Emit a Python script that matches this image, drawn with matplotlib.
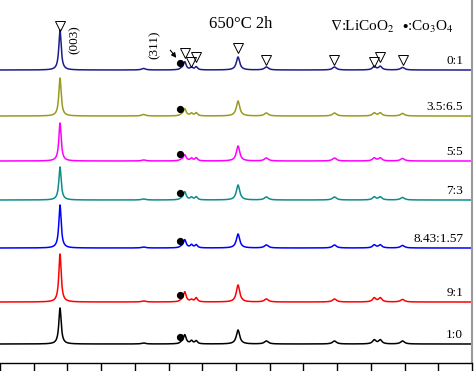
import numpy as np
import matplotlib
matplotlib.use("Agg")
import matplotlib.pyplot as plt
from matplotlib.ticker import MultipleLocator

plt.rcParams['font.family'] = ['Liberation Serif', 'DejaVu Serif']
plt.rcParams['mathtext.fontset'] = 'stix'

# ---- data ----
samples = ["0:1", "3.5:6.5", "5:5", "7:3", "8.43:1.57", "9:1", "1:0"]
colors = ["#1c1c8c", "#9a9a1e", "#ff00ff", "#0e8c8c", "#0000ff", "#ff0000", "#000000"]
offsets = [293, 247, 202, 163, 115, 61, 19]

peak_pos = [18.9, 31.3, 36.85, 37.4, 38.4, 39.1, 45.3, 49.5, 59.6, 65.5, 66.4, 69.7]
peak_fwhm = [0.42, 0.7, 0.5, 0.5, 0.45, 0.45, 0.6, 0.7, 0.7, 0.6, 0.6, 0.7]

h_0_1 = [40, 1.5, 1, 8, 2.5, 3, 13, 3, 3, 3.5, 3.5, 2.5]
h_35_65 = [38, 1.5, 1, 7, 2.5, 3, 15, 3, 3, 3, 3, 2.5]
h_5_5 = [38, 1, 1, 6, 2.5, 3, 15, 3, 3, 3, 3, 2.5]
h_7_3 = [33, 1, 1, 8, 2.5, 3, 15, 3, 3, 3, 3, 2.5]
h_843_157 = [43, 1, 1, 8, 3, 3, 14, 3, 3, 3, 3, 2.5]
h_9_1 = [48, 1, 1, 10, 2, 4, 17, 3, 3, 4, 4, 2.5]
h_1_0 = [36, 1, 1, 9, 3, 3, 14, 3, 3, 4, 4, 3]
heights = [h_0_1, h_35_65, h_5_5, h_7_3, h_843_157, h_9_1, h_1_0]

# LiCoO2 marker peaks on the top trace
licoo2_pos = [18.9, 37.4, 38.4, 39.1, 45.3, 49.5, 59.6, 65.5, 66.4, 69.7]
licoo2_y = [337, 310, 301, 306, 315, 303, 303, 301, 306, 303]
co3o4_pos = 36.7
co3o4_gap = 7

fig = plt.figure(figsize=(4.74, 3.71), dpi=100)
ax = fig.add_axes([0, 8/371, 472/474, 363/371])

x = np.linspace(10, 80, 3500)

def profile(hs):
    y = np.zeros_like(x)
    for p, w, h in zip(peak_pos, peak_fwhm, hs):
        g = w / 2
        y += h * g**2 / ((x - p)**2 + g**2)
    return y

for name, c, off, hs in zip(samples, colors, offsets, heights):
    ax.plot(x, off + profile(hs), color=c, lw=1.1)
    ax.text(78.7, off + 9, name, ha='right', va='center', fontsize=9.5)
    ax.plot([co3o4_pos], [off + co3o4_gap], 'o', color='black', ms=4.2)

ax.plot(licoo2_pos, licoo2_y, 'v', mfc='none', mec='black', ms=7, mew=0.7)

ax.text(45.7, 339, "650°C 2h", ha='center', va='center', fontsize=12)
ax.text(58.9, 336, r"$\nabla$:LiCoO$_2$", ha='left', va='center', fontsize=11)
ax.text(69.6, 336, r"$\bullet$:Co$_3$O$_4$", ha='left', va='center', fontsize=11)
ax.text(21.1, 323, "(003)", rotation=90, ha='center', va='center', fontsize=9.5)
ax.text(33.0, 318, "(311)", rotation=90, ha='center', va='center', fontsize=9.5)
ax.annotate("", xy=(36.4, 303), xytext=(35.0, 315),
            arrowprops=dict(arrowstyle='-|>', color='black', lw=0.8, mutation_scale=7))

ax.set_xlim(10, 80)
ax.set_ylim(0, 363)
ax.xaxis.set_major_locator(MultipleLocator(10))
ax.xaxis.set_minor_locator(MultipleLocator(5))
ax.tick_params(axis='x', which='both', direction='out', length=8, width=1,
               labelbottom=False)
ax.tick_params(axis='y', left=False, labelleft=False)
ax.spines['top'].set_visible(False)
ax.spines['left'].set_visible(False)
ax.spines['right'].set_color('#9a9a9a')
ax.spines['right'].set_linewidth(1.5)
ax.spines['bottom'].set_linewidth(1.0)

fig.savefig("out.png", dpi=100)
